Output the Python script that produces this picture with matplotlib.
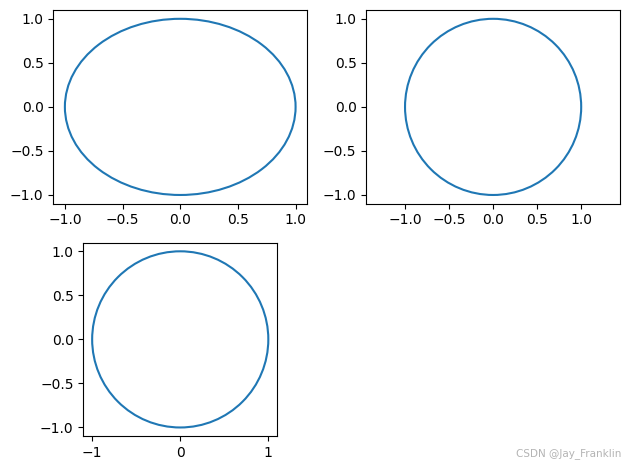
import matplotlib.pyplot as plt
from matplotlib.patches import Circle

# circle drawn in every panel
center = (0.0, 0.0)
radius = 1.0
line_color = "#1f77b4"

fig = plt.figure(figsize=(6.4, 4.8), dpi=100)

ax1 = fig.add_subplot(221)
ax1.add_patch(Circle(center, radius, fill=False, edgecolor=line_color, linewidth=1.5))
ax1.autoscale_view()

ax2 = fig.add_subplot(222)
ax2.add_patch(Circle(center, radius, fill=False, edgecolor=line_color, linewidth=1.5))
ax2.autoscale_view()
ax2.axis('equal')

ax3 = fig.add_subplot(223)
ax3.add_patch(Circle(center, radius, fill=False, edgecolor=line_color, linewidth=1.5))
ax3.autoscale_view()
ax3.set_aspect('equal', 'box')

plt.tight_layout()
wm = fig.text(0.978, 0.033, "CSDN @Jay_Franklin", ha="right", va="bottom",
              fontsize=7.5, color="#b4b4b4")
wm.set_in_layout(False)
plt.savefig("out.png", dpi=100, bbox_inches='tight')
